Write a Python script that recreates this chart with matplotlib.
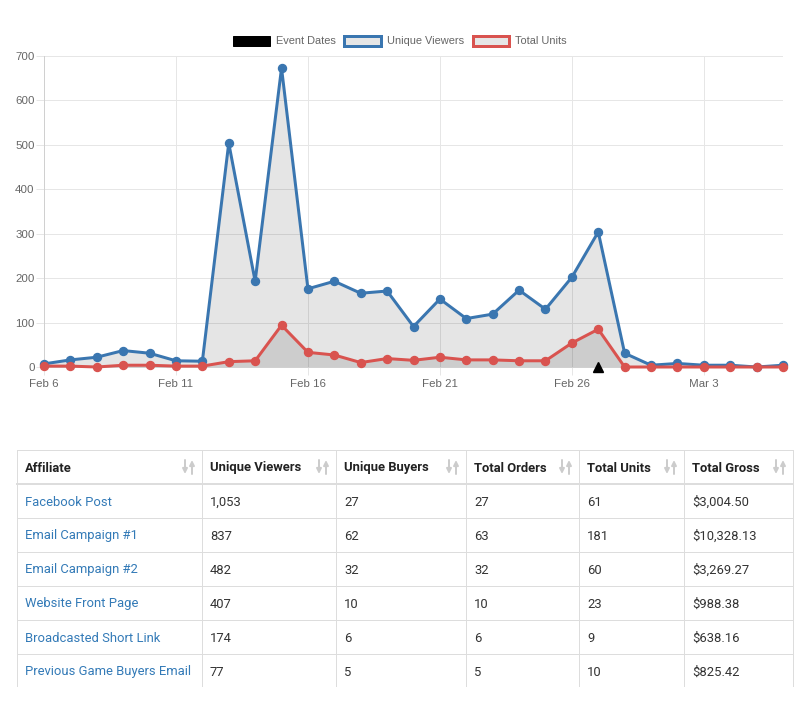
import matplotlib
matplotlib.use("Agg")
import matplotlib.pyplot as plt
from matplotlib.patches import Patch
import numpy as np

# ---------------- data ----------------
day_labels = ["Feb 6", "Feb 7", "Feb 8", "Feb 9", "Feb 10", "Feb 11", "Feb 12", "Feb 13",
              "Feb 14", "Feb 15", "Feb 16", "Feb 17", "Feb 18", "Feb 19", "Feb 20", "Feb 21",
              "Feb 22", "Feb 23", "Feb 24", "Feb 25", "Feb 26", "Feb 27", "Feb 28", "Mar 1",
              "Mar 2", "Mar 3", "Mar 4", "Mar 5", "Mar 6"]
unique_viewers = [7, 16, 22, 37, 31, 14, 13, 504, 193, 673, 176, 193, 166, 171, 91, 153,
                  109, 119, 173, 130, 202, 304, 31, 4, 8, 4, 4, 0, 4]
total_units = [2, 2, 0, 4, 4, 2, 2, 12, 14, 94, 33, 27, 10, 19, 15, 22,
               16, 16, 14, 14, 54, 85, 0, 0, 0, 0, 0, 0, 0]
event_dates = ["Feb 27"]
x_tick_labels = ["Feb 6", "Feb 11", "Feb 16", "Feb 21", "Feb 26", "Mar 3"]
y_ticks = [0, 100, 200, 300, 400, 500, 600, 700]

table_columns = ["Affiliate", "Unique Viewers", "Unique Buyers", "Total Orders",
                 "Total Units", "Total Gross"]
affiliates = ["Facebook Post", "Email Campaign #1", "Email Campaign #2",
              "Website Front Page", "Broadcasted Short Link", "Previous Game Buyers Email"]
t_viewers = ["1,053", "837", "482", "407", "174", "77"]
t_buyers = ["27", "62", "32", "10", "6", "5"]
t_orders = ["27", "63", "32", "10", "6", "5"]
t_units = ["61", "181", "60", "23", "9", "10"]
t_gross = ["$3,004.50", "$10,328.13", "$3,269.27", "$988.38", "$638.16", "$825.42"]

# ---------------- style ----------------
BLUE = "#3a76b0"
RED = "#d9534f"
GRID = "#e6e6e6"
TXT = "#666666"
W, H = 800, 706
PX = 72 / 100  # px -> pt

plt.rcParams["font.family"] = ["Liberation Sans", "DejaVu Sans"]

fig = plt.figure(figsize=(W / 100, H / 100), dpi=100)
fig.patch.set_facecolor("white")

# chart axes, pixel layout
x0, x1, y0, y1 = 44, 783, 367, 56
ax = fig.add_axes([x0 / W, 1 - y0 / H, (x1 - x0) / W, (y0 - y1) / H])
x = np.arange(len(day_labels))
ax.set_xlim(0, len(day_labels) - 1)
ax.set_ylim(0, 700)

ax.fill_between(x, unique_viewers, 0, color=(0, 0, 0, 0.1), linewidth=0, zorder=1)
ax.fill_between(x, total_units, 0, color=(0, 0, 0, 0.1), linewidth=0, zorder=1)
ax.plot(x, unique_viewers, color=BLUE, lw=3 * PX, marker="o", ms=8 * PX,
        clip_on=False, zorder=3, solid_joinstyle="miter")
ax.plot(x, total_units, color=RED, lw=3 * PX, marker="o", ms=8 * PX,
        clip_on=False, zorder=3, solid_joinstyle="miter")
ev_x = [day_labels.index(d) for d in event_dates]
ax.plot(ev_x, [0] * len(ev_x), linestyle="none", marker="^", color="black",
        ms=10 * PX, clip_on=False, zorder=4)

xt = [day_labels.index(d) for d in x_tick_labels]
ax.set_xticks(xt)
ax.set_xticklabels(x_tick_labels)
ax.set_yticks(y_ticks)
ax.set_yticklabels([str(v) for v in y_ticks])
ax.grid(True, color=GRID, lw=1 * PX, zorder=0)
ax.set_axisbelow(True)
for s in ["top", "right"]:
    ax.spines[s].set_visible(False)
ax.spines["left"].set_color("#d0d0d0")
ax.spines["bottom"].set_color("#d0d0d0")
ax.spines["left"].set_linewidth(1 * PX)
ax.spines["bottom"].set_linewidth(1 * PX)
ax.tick_params(axis="both", colors=GRID, labelcolor=TXT, labelsize=11.5 * PX,
               length=8 * PX, width=1 * PX)
ax.tick_params(axis="x", pad=3)
ax.tick_params(axis="y", pad=1)

# legend
handles = [Patch(facecolor="black", edgecolor="black", lw=1 * PX),
           Patch(facecolor="#e6e6e6", edgecolor=BLUE, lw=3 * PX),
           Patch(facecolor="#e6e6e6", edgecolor=RED, lw=3 * PX)]
fig.legend(handles, ["Event Dates", "Unique Viewers", "Total Units"], loc="center",
           bbox_to_anchor=(0.5, 1 - 41 / H), ncol=3, frameon=False,
           fontsize=11 * PX, labelcolor=TXT, handlelength=3.3, handleheight=1.0,
           handletextpad=0.55, columnspacing=0.8, borderpad=0)

# ---------------- table (overlay axes in pixel coords) ----------------
ov = fig.add_axes([0, 0, 1, 1], zorder=-1)
ov.set_xlim(0, W)
ov.set_ylim(H, 0)
ov.axis("off")

col_x = [17, 202, 336, 466, 579, 684, 793]
row_y = [450, 484, 518, 552, 586, 620, 654]
bottom = 686
BORDER = "#dddddd"
TFONT = ["Roboto", "DejaVu Sans"]
fs = 13 * PX

# horizontal lines
ov.plot([col_x[0], col_x[-1]], [row_y[0], row_y[0]], color=BORDER, lw=1 * PX)
ov.plot([col_x[0], col_x[-1]], [row_y[1], row_y[1]], color=BORDER, lw=2 * PX)
for yy in row_y[2:]:
    ov.plot([col_x[0], col_x[-1]], [yy, yy], color=BORDER, lw=1 * PX)
for xx in col_x:
    ov.plot([xx, xx], [row_y[0], bottom], color=BORDER, lw=1 * PX)

# header
hy = (row_y[0] + row_y[1]) / 2
for i, name in enumerate(table_columns):
    ov.text(col_x[i] + 8, hy + 1, name, fontsize=fs,
            fontweight="bold", color="#222222", family=TFONT, va="center", ha="left")
    xr = col_x[i + 1] - 9
    # sort icon: down arrow + up arrow
    ov.annotate("", xy=(xr - 8, hy + 7), xytext=(xr - 8, hy - 7),
                arrowprops=dict(arrowstyle="-|>", color="#cccccc", lw=2 * PX,
                                mutation_scale=7, shrinkA=0, shrinkB=0))
    ov.annotate("", xy=(xr - 1, hy - 7), xytext=(xr - 1, hy + 7),
                arrowprops=dict(arrowstyle="-|>", color="#cccccc", lw=2 * PX,
                                mutation_scale=7, shrinkA=0, shrinkB=0))

columns = [affiliates, t_viewers, t_buyers, t_orders, t_units, t_gross]
for r in range(len(affiliates)):
    top = row_y[r + 1]
    nxt = row_y[r + 2] if r + 2 < len(row_y) else bottom + 2
    yc = (top + nxt) / 2 + 1
    for c, col in enumerate(columns):
        ov.text(col_x[c] + 8, yc, col[r], fontsize=fs, family=TFONT,
                color="#337ab7" if c == 0 else "#333333", va="center", ha="left")

fig.savefig("out.png", dpi=100, facecolor="white")
